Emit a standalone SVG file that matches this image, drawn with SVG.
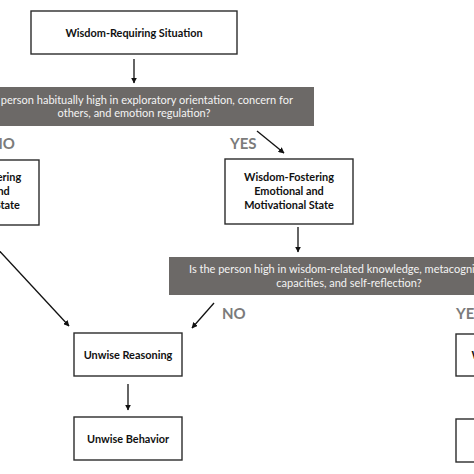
<svg xmlns="http://www.w3.org/2000/svg" width="474" height="474" viewBox="0 0 474 474">
<defs>
<marker id="ah" viewBox="0 0 10 10" refX="9" refY="5" markerWidth="6" markerHeight="6" orient="auto" markerUnits="userSpaceOnUse">
<path d="M0,0 L10,5 L0,10 z" fill="#111"/>
</marker>
<style>
.box{fill:#fff;stroke:#2b2b2b;stroke-width:1.4}
.bar{fill:#6c6967}
.bt{font-family:Lato,"Open Sans","Liberation Sans",sans-serif;font-weight:bold;font-size:10.9px;fill:#111;text-anchor:middle}
.qt{font-family:Lato,"Open Sans","Liberation Sans",sans-serif;font-size:11px;fill:#f4f4f4;text-anchor:middle}
.qe{text-anchor:end}
.qs{text-anchor:start}
.lbl{font-family:Lato,"Open Sans","Liberation Sans",sans-serif;font-weight:bold;font-size:15px;fill:#7b7b7b}
.con{stroke:#111;stroke-width:1.3;fill:none;marker-end:url(#ah)}
</style>
</defs>
<rect width="474" height="474" fill="#fff"/>
<g id="connectors">
<line class="con" x1="134" y1="59" x2="134" y2="83"/>
<line class="con" x1="257" y1="131" x2="284" y2="153"/>
<line class="con" x1="298" y1="227" x2="298" y2="252"/>
<line class="con" x1="-20" y1="230" x2="69" y2="326"/>
<line class="con" x1="214" y1="303" x2="192" y2="328"/>
<line class="con" x1="128" y1="384" x2="128" y2="410"/>
</g>
<g id="n-situation">
<rect class="box" x="31" y="11" width="206" height="43"/>
<text class="bt" x="134" y="37">Wisdom-Requiring Situation</text>
</g>
<g id="q1">
<rect class="bar" x="-50" y="87" width="364" height="39"/>
<text class="qt qe" x="293" y="104">Is the person habitually high in exploratory orientation, concern for</text>
<text class="qt" x="134" y="117">others, and emotion regulation?</text>
</g>
<g id="label-no1"><text class="lbl" x="15" y="149" style="text-anchor:end">NO</text></g>
<g id="label-yes1"><text class="lbl" x="230" y="149">YES</text></g>
<g id="n-hindering">
<rect class="box" x="-89" y="160" width="128" height="65"/>
<text class="bt" x="-25" y="181">Wisdom-Hindering</text>
<text class="bt" x="-25" y="195">Emotional and</text>
<text class="bt" x="-25" y="209">Motivational State</text>
</g>
<g id="n-fostering">
<rect class="box" x="225" y="159" width="128" height="65"/>
<text class="bt" x="289" y="181">Wisdom-Fostering</text>
<text class="bt" x="289" y="195">Emotional and</text>
<text class="bt" x="289" y="209">Motivational State</text>
</g>
<g id="q2">
<rect class="bar" x="169" y="257" width="360" height="38"/>
<text class="qt qs" x="189" y="273">Is the person high in wisdom-related knowledge, metacognitive</text>
<text class="qt" x="349" y="287">capacities, and self-reflection?</text>
</g>
<g id="label-no2"><text class="lbl" x="222" y="319">NO</text></g>
<g id="label-yes2"><text class="lbl" x="456" y="319">YES</text></g>
<g id="n-unwise-reasoning">
<rect class="box" x="74" y="333" width="108" height="43"/>
<text class="bt" x="128" y="359">Unwise Reasoning</text>
</g>
<g id="n-unwise-behavior">
<rect class="box" x="74" y="417" width="108" height="43"/>
<text class="bt" x="128" y="443">Unwise Behavior</text>
</g>
<g id="n-wise-reasoning">
<rect class="box" x="456" y="334" width="108" height="42"/>
<text class="bt" x="510" y="359">Wise Reasoning</text>
</g>
<g id="n-wise-behavior">
<rect class="box" x="456" y="419" width="108" height="43"/>
<text class="bt" x="510" y="444">Wise Behavior</text>
</g>
</svg>
